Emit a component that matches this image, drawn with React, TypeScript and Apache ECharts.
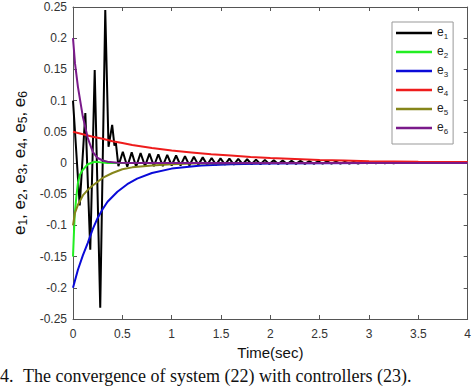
import React, { useEffect, useRef } from "react";
import * as echarts from "echarts";

// ---- data ----
const seriesNames = ["e1", "e2", "e3", "e4", "e5", "e6"];
const seriesColors = ["#000000", "#22ee22", "#0a0ad8", "#ee1c1c", "#85851a", "#7a1a8a"];

const xTickValues = [0, 0.5, 1, 1.5, 2, 2.5, 3, 3.5, 4];

const e1T = [0, 0.068, 0.125, 0.175, 0.22, 0.276, 0.327, 0.36, 0.397, 0.42, 0.435,
  0.46, 0.505, 0.55, 0.595, 0.64, 0.685, 0.73, 0.775, 0.82, 0.865, 0.91, 0.955, 1.0, 1.045,
  1.09, 1.135, 1.18, 1.225, 1.27, 1.315, 1.36, 1.405, 1.45, 1.495, 1.54, 1.585, 1.63, 1.675,
  1.72, 1.765, 1.81, 1.855, 1.9, 1.945, 1.99, 2.035, 2.08, 2.125, 2.17, 2.215, 2.26, 2.305,
  2.35, 2.395, 2.44, 2.485, 2.53, 2.575, 2.62, 2.665, 2.71, 2.755, 2.8, 2.845, 2.89, 2.935,
  2.98, 3.025, 3.07, 3.115, 3.16, 3.205, 3.25, 3.295, 3.34, 3.5, 4.0];
const e1V = [0.1, -0.068, 0.08, -0.139, 0.149, -0.232, 0.245, 0.026, 0.061, 0.028, 0.032,
  -0.005, 0.018, -0.006, 0.017, -0.006, 0.016, -0.005, 0.015, -0.005, 0.014, -0.005, 0.013, -0.004, 0.012,
  -0.004, 0.011, -0.004, 0.01, -0.003, 0.009, -0.003, 0.008, -0.003, 0.0075, -0.0025, 0.007, -0.0025, 0.0065,
  -0.002, 0.006, -0.002, 0.0055, -0.002, 0.005, -0.0018, 0.0045, -0.0016, 0.004, -0.0015, 0.0037, -0.0014, 0.0034,
  -0.0013, 0.003, -0.0012, 0.0027, -0.0011, 0.0024, -0.001, 0.0021, -0.0009, 0.0019, -0.0008, 0.0017, -0.0007, 0.0015,
  -0.0006, 0.0013, -0.0005, 0.0011, -0.0004, 0.0009, -0.0003, 0.0007, -0.0002, 0, 0];

const e2T = [0, 0.017, 0.034, 0.05, 0.07, 0.1, 0.15, 0.22, 0.28, 0.35, 0.5, 1, 2, 4];
const e2V = [-0.15, -0.083, -0.054, -0.032, -0.019, -0.011, -0.002, 0.002, 0.001, 0, 0, 0, 0, 0];

const e3T = [0, 0.05, 0.1, 0.15, 0.2, 0.25, 0.3, 0.35, 0.45, 0.55, 0.65, 0.8, 1.0, 1.3, 1.6, 2, 2.5, 3, 4];
const e3V = [-0.2, -0.171, -0.148, -0.128, -0.106, -0.088, -0.074, -0.062, -0.046, -0.034, -0.025, -0.016,
  -0.009, -0.004, -0.002, -0.0008, -0.0003, 0, 0];

const e4T = [0, 0.1, 0.2, 0.3, 0.4, 0.5, 0.6, 0.8, 1.0, 1.2, 1.4, 1.6, 1.8, 2.0, 2.25, 2.5, 2.75, 3.0, 3.5, 4.0];
const e4V = [0.05, 0.046, 0.042, 0.039, 0.035, 0.032, 0.029, 0.024, 0.02, 0.017, 0.014, 0.012, 0.0095, 0.008,
  0.0065, 0.005, 0.004, 0.003, 0.002, 0.0015];

const e5T = [0, 0.02, 0.05, 0.1, 0.15, 0.2, 0.25, 0.3, 0.4, 0.5, 0.6, 0.8, 1.0, 1.2, 1.5, 2, 3, 4];
const e5V = [-0.1, -0.08, -0.067, -0.052, -0.043, -0.036, -0.03, -0.024, -0.016, -0.01, -0.007, -0.004,
  -0.002, -0.001, -0.0005, 0, 0, 0];

const e6T = [0, 0.02, 0.05, 0.1, 0.15, 0.2, 0.25, 0.3, 0.35, 0.45, 0.6, 1, 2, 4];
const e6V = [0.2, 0.16, 0.122, 0.074, 0.04, 0.018, 0.008, 0.004, 0.002, 0.0005, 0, 0, 0, 0];

const seriesT = [e1T, e2T, e3T, e4T, e5T, e6T];
const seriesV = [e1V, e2V, e3V, e4V, e5V, e6V];

const yAxisTitleParts = ["1", "2", "3", "4", "5", "6"];
const xAxisTitle = "Time(sec)";
const captionNumber = "4.";
const captionText = "The convergence of system (22) with controllers (23).";

const SANS = "'Liberation Sans', Arial, sans-serif";
const SERIF = "'Liberation Serif', 'Times New Roman', serif";

export default function App() {
  const ref = useRef<HTMLDivElement>(null);

  useEffect(() => {
    if (!ref.current) return;
    const chart = echarts.init(ref.current, undefined, { renderer: "svg" });

    const yName = yAxisTitleParts
      .map((d, i) => `{e|${i === 0 ? "" : ", "}e}{s|${d}}`)
      .join("");

    const axisColor = "#555";
    const tickFmt = (v: number) => String(+v.toFixed(2));

    const option: any = {
      animation: false,
      backgroundColor: "#ffffff",
      grid: { left: 73, right: 5, top: 7, bottom: 68, containLabel: false },
      xAxis: [
        {
          type: "value",
          min: xTickValues[0],
          max: xTickValues[xTickValues.length - 1],
          interval: 0.5,
          position: "bottom",
          axisLine: { onZero: false, lineStyle: { color: axisColor, width: 1 } },
          axisTick: { inside: true, length: 4, lineStyle: { color: axisColor } },
          axisLabel: { color: "#333", fontSize: 12, fontFamily: SANS, margin: 9, formatter: tickFmt },
          splitLine: { show: false },
          name: xAxisTitle,
          nameLocation: "middle",
          nameGap: 25,
          nameTextStyle: { fontSize: 15, color: "#111", fontFamily: SANS },
        },
        {
          type: "value",
          min: xTickValues[0],
          max: xTickValues[xTickValues.length - 1],
          interval: 0.5,
          position: "top",
          axisLine: { onZero: false, lineStyle: { color: axisColor, width: 1 } },
          axisTick: { inside: true, length: 4, lineStyle: { color: axisColor } },
          axisLabel: { show: false },
          splitLine: { show: false },
        },
      ],
      yAxis: [
        {
          type: "value",
          min: -0.25,
          max: 0.25,
          interval: 0.05,
          position: "left",
          axisLine: { show: true, onZero: false, lineStyle: { color: axisColor, width: 1 } },
          axisTick: { show: true, inside: true, length: 4, lineStyle: { color: axisColor } },
          axisLabel: { color: "#333", fontSize: 12, fontFamily: SANS, margin: 6, formatter: tickFmt },
          splitLine: { show: false },
          name: yName,
          nameLocation: "middle",
          nameRotate: 90,
          nameGap: 40,
          nameTextStyle: {
            color: "#111",
            rich: {
              e: { fontSize: 17, fontFamily: SANS, color: "#111", lineHeight: 18, verticalAlign: "top" },
              s: { fontSize: 12, fontFamily: SANS, color: "#111", lineHeight: 18, verticalAlign: "bottom" },
            },
          },
        },
        {
          type: "value",
          min: -0.25,
          max: 0.25,
          interval: 0.05,
          position: "right",
          axisLine: { show: true, onZero: false, lineStyle: { color: axisColor, width: 1 } },
          axisTick: { show: true, inside: true, length: 4, lineStyle: { color: axisColor } },
          axisLabel: { show: false },
          splitLine: { show: false },
        },
      ],
      legend: {
        orient: "vertical",
        left: 392,
        top: 22,
        padding: [4, 5, 9, 4],
        itemGap: 5,
        itemWidth: 36,
        itemHeight: 2.5,
        icon: "rect",
        backgroundColor: "#ffffff",
        borderColor: "#999",
        borderWidth: 1,
        borderRadius: 0,
        selectedMode: false,
        data: seriesNames,
        formatter: (name: string) => `{e|e}{s|${name.slice(1)}}`,
        textStyle: {
          color: "#222",
          rich: {
            e: { fontSize: 12, fontFamily: SANS, color: "#222", lineHeight: 14, verticalAlign: "top" },
            s: { fontSize: 8, fontFamily: SANS, color: "#222", lineHeight: 6, verticalAlign: "bottom" },
          },
        },
      },
      graphic: [
        {
          type: "text",
          x: 0,
          y: 376,
          style: { text: captionNumber, font: `18px ${SERIF}`, fill: "#111", verticalAlign: "middle" },
        },
        {
          type: "text",
          x: 23,
          y: 376,
          style: { text: captionText, font: `18px ${SERIF}`, fill: "#111", verticalAlign: "middle" },
        },
      ],
      series: seriesNames.map((name, i) => ({
        name,
        type: "line",
        xAxisIndex: 0,
        yAxisIndex: 0,
        symbol: "none",
        silent: true,
        color: seriesColors[i],
        lineStyle: { color: seriesColors[i], width: 2 },
        emphasis: { disabled: true },
        data: seriesT[i].map((t, j) => [t, seriesV[i][j]]),
        z: 2 + i,
      })),
    };

    chart.setOption(option);
    return () => chart.dispose();
  }, []);

  return (
    <div
      ref={ref}
      style={{ position: "fixed", left: 0, top: 0, width: 474, height: 387, background: "#fff" }}
    />
  );
}
